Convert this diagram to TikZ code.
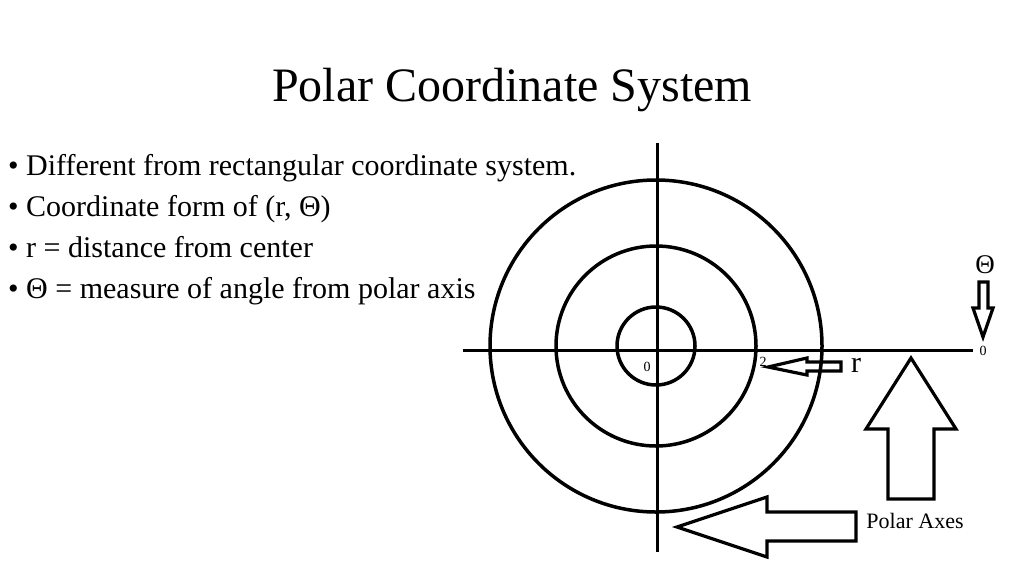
\documentclass[tikz,border=0pt]{standalone}
\usepackage{fontspec}
\setmainfont{Liberation Serif}
\usetikzlibrary{positioning}
\tikzset{
    txt/.style = {inner sep=0pt, anchor=base west},
    bullet/.style = {txt, font=\fontsize{30}{34}\selectfont},
    ring/.style = {draw=black, line width=3.5pt},
    axis/.style = {draw=black, line width=3pt},
    blockarrow/.style = {draw=black, line width=3.2pt, line join=miter},
    small/.style = {inner sep=0pt, font=\fontsize{14}{16}\selectfont},
    big/.style = {inner sep=0pt, font=\fontsize{30}{34}\selectfont}
}

\begin{document}
\begin{tikzpicture}[x=1pt, y=-1pt]
    \useasboundingbox (0,0) rectangle (1024,576);

    % title and bullets
    \node (title) [inner sep=0pt, anchor=base, font=\fontsize{48}{54}\selectfont] at (512,101) {Polar Coordinate System};
    \node (b1) [bullet] at (8,175) {\textbullet\ Different from rectangular coordinate system.};
    \node (b2) [bullet] at (8,216) {\textbullet\ Coordinate form of (r, Θ)};
    \node (b3) [bullet] at (8,257) {\textbullet\ r = distance from center};
    \node (b4) [bullet] at (8,298) {\textbullet\ Θ = measure of angle from polar axis};

    % axes
    \coordinate (o) at (656,346);
    \draw [axis] (657,143) -- (657,552);
    \draw [axis] (463,350) -- (973,350);

    % rings
    \draw [ring] (o) circle [radius=39];
    \draw [ring] (o) circle [radius=100];
    \draw [ring] (o) circle [radius=166];

    % labels on the axis
    \node (zero) [small] at (647,367) {0};
    \node (two) [small] at (763,362) {2};
    \node (end) [small] at (983,351) {0};

    % r arrow
    \draw [blockarrow] (768,367) -- (807,358) -- (807,362) -- (841,362) -- (841,371) -- (807,371) -- (807,375) -- cycle;
    \node (r) [big] at (856,365) {r};

    % theta arrow
    \node (theta) [big, font=\fontsize{27}{30}\selectfont] at (985,265) {Θ};
    \draw [blockarrow] (979,282) -- (988,282) -- (988,308) -- (993,308) -- (983,337) -- (973,308) -- (979,308) -- cycle;

    % polar axes arrows
    \draw [blockarrow] (911,358) -- (956,429) -- (934,429) -- (934,499) -- (888,499) -- (888,429) -- (866,429) -- cycle;
    \draw [blockarrow] (677,527) -- (767,497) -- (767,512) -- (856,512) -- (856,541) -- (767,541) -- (767,557) -- cycle;
    \node (axes) [inner sep=0pt, font=\fontsize{22}{26}\selectfont] at (915,521) {Polar Axes};
\end{tikzpicture}
\end{document}
